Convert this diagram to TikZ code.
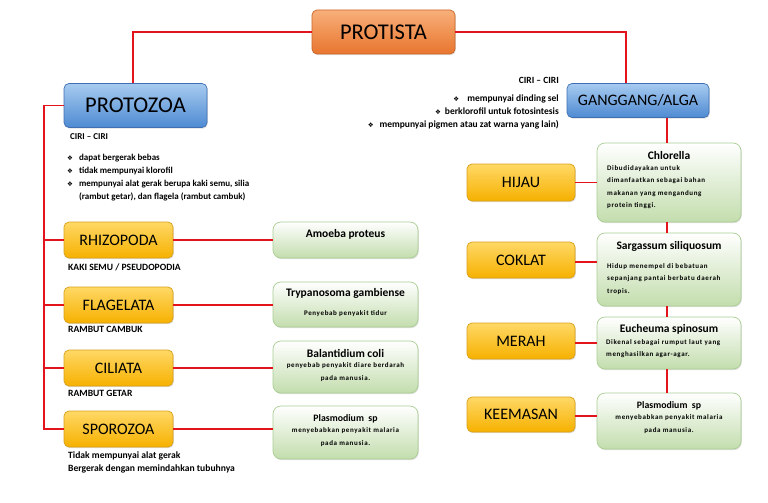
\documentclass[tikz,border=0pt]{standalone}
\usepackage{fontspec}
\setmainfont{Carlito}
\newfontfamily\djv{DejaVu Sans}
\newfontfamily\spaced[LetterSpace=9]{Carlito}
\usetikzlibrary{shadows,calc}
\definecolor{lred}{HTML}{E3141C}
\definecolor{oTop}{HTML}{F8AF7A}
\definecolor{oBot}{HTML}{E8752E}
\definecolor{oBrd}{HTML}{C9652A}
\definecolor{bTop}{HTML}{A7CBF0}
\definecolor{bBot}{HTML}{4E8AD2}
\definecolor{bBrd}{HTML}{3F6FB2}
\definecolor{yTop}{HTML}{FFD866}
\definecolor{yBot}{HTML}{F6B100}
\definecolor{yBrd}{HTML}{D9A01A}
\definecolor{gTop}{HTML}{FFFFFF}
\definecolor{gBot}{HTML}{C3DDAD}
\definecolor{gBrd}{HTML}{A9CE92}
\newcommand{\bul}{{\djv\fontsize{6.5}{6.5}\selectfont ❖}}
\tikzset{
  conn/.style={draw=lred, line width=1.6pt},
  boxbase/.style={rounded corners=5pt, inner sep=0pt, line width=0.7pt,
    drop shadow={opacity=0.25, shadow xshift=0.8pt, shadow yshift=-1.2pt}},
  obox/.style={boxbase, top color=oTop, bottom color=oBot, draw=oBrd, font=\fontsize{22.5}{22.5}\selectfont},
  bbox/.style={boxbase, top color=bTop, bottom color=bBot, draw=bBrd},
  ybox/.style={boxbase, top color=yTop, bottom color=yBot, draw=yBrd, minimum height=36, font=\fontsize{16}{16}\selectfont},
  gbox/.style={boxbase, rounded corners=8pt, top color=gTop, bottom color=gBot, draw=gBrd, minimum width=145},
  gtitle/.style={inner sep=0pt, font=\bfseries\fontsize{11.5}{11.5}\selectfont},
  ptitle/.style={inner sep=0pt, font=\bfseries\fontsize{9.8}{9.8}\selectfont},
  gdesc/.style={inner sep=0pt, font=\spaced\bfseries\fontsize{7}{12.6}\selectfont},
  note/.style={inner sep=0pt, anchor=west, font=\bfseries\fontsize{9.6}{9.6}\selectfont},
  ciri/.style={inner sep=0pt, font=\bfseries\fontsize{9}{13}\selectfont},
}
\begin{document}
\begin{tikzpicture}[x=1pt,y=-1pt]
\useasboundingbox[fill=white] (0,0) rectangle (768,503);

% main boxes
\node[obox, minimum width=143, minimum height=44] (protista) at (383.5,32) {PROTISTA};
\node[bbox, minimum width=143, minimum height=44, font=\fontsize{22.5}{22.5}\selectfont] (protozoa) at (135.5,105.5) {PROTOZOA};
\node[bbox, minimum width=142, minimum height=34, font=\fontsize{16}{16}\selectfont] (alga) at (638,100.5) {GANGGANG/ALGA};

% left yellow
\node[ybox, minimum width=109] (rhizo) at (118.5,240) {RHIZOPODA};
\node[ybox, minimum width=109] (flag) at (118.5,305) {FLAGELATA};
\node[ybox, minimum width=109] (cili) at (118.5,368) {CILIATA};
\node[ybox, minimum width=109] (sporo) at (118.5,429) {SPOROZOA};

% left green
\node[gbox, minimum height=36] (amoeba) at (345.5,240) {};
\node[gbox, minimum height=45] (tryp) at (345.5,304.5) {};
\node[gbox, minimum height=52] (balan) at (345.5,367) {};
\node[gbox, minimum height=53] (plasl) at (345.5,432.5) {};

% right yellow
\node[ybox, minimum width=108, minimum height=37] (hijau) at (521,182.5) {HIJAU};
\node[ybox, minimum width=108] (coklat) at (521,260) {COKLAT};
\node[ybox, minimum width=108] (merah) at (521,341) {MERAH};
\node[ybox, minimum width=108, minimum height=35] (emas) at (521,414.5) {KEEMASAN};

% right green
\node[gbox, minimum width=144, minimum height=79] (chl) at (669,182.5) {};
\node[gbox, minimum width=144, minimum height=73] (sarg) at (669,269.5) {};
\node[gbox, minimum width=144, minimum height=52] (euch) at (669,343) {};
\node[gbox, minimum width=144, minimum height=56] (plasr) at (669,421) {};

% connectors
\draw[conn] (protista.west) -| ([xshift=-2.5pt]protozoa.north);
\draw[conn] (protista.east) -| ([xshift=-12pt]alga.north);
\draw[conn] (protozoa.west) -| (sporo.west -| 44,0) -- (sporo.west);
\draw[conn] (rhizo.west -| 44,0) -- (rhizo.west);
\draw[conn] (flag.west -| 44,0) -- (flag.west);
\draw[conn] (cili.west -| 44,0) -- (cili.west);
\draw[conn] (rhizo.east) -- (rhizo.east -| amoeba.west);
\draw[conn] (flag.east) -- (flag.east -| tryp.west);
\draw[conn] (cili.east) -- (cili.east -| balan.west);
\draw[conn] (sporo.east) -- (sporo.east -| plasl.west);
\draw[conn] ([xshift=-2pt]chl.north) -- ([xshift=-2pt]chl.north |- alga.south);
\draw[conn] ([xshift=-2pt]chl.south) -- ([xshift=-2pt]sarg.north);
\draw[conn] ([xshift=-2pt]sarg.south) -- ([xshift=-2pt]euch.north);
\draw[conn] ([xshift=-2pt]euch.south) -- ([xshift=-2pt]plasr.north);
\draw[conn] (hijau.east) -- (hijau.east -| chl.west);
\draw[conn] ([yshift=-2pt]coklat.east) -- ([yshift=-2pt]coklat.east -| sarg.west);
\draw[conn] ([yshift=-2pt]merah.east) -- ([yshift=-2pt]merah.east -| euch.west);
\draw[conn] ([yshift=-1.5pt]emas.east) -- ([yshift=-1.5pt]emas.east -| plasr.west);

% left CIRI
\node[ciri, anchor=west] (lciri) at (70,137) {CIRI -- CIRI};
\node[ciri, anchor=north west, align=left] (lcirib) at (67,153.5) {%
\bul\hspace{6pt}dapat bergerak bebas\\
\bul\hspace{6pt}tidak mempunyai klorofil\\
\bul\hspace{6pt}mempunyai alat gerak berupa kaki semu, silia\\
\hphantom{\bul\hspace{6pt}}(rambut getar), dan flagela (rambut cambuk)};

% right CIRI
\node[ciri, font=\bfseries\fontsize{9.5}{13}\selectfont, anchor=east] (rciri) at (559,80) {CIRI -- CIRI};
\node[ciri, font=\bfseries\fontsize{9.5}{13}\selectfont, anchor=north east, align=right] (rcirib) at (559,95) {%
\bul\hspace{8pt}mempunyai dinding sel\\
\bul\hspace{4pt}berklorofil untuk fotosintesis\\
\bul\hspace{6pt}mempunyai pigmen atau zat warna yang lain)};

% notes under yellow boxes
\node[note] (n1) at (68,267) {KAKI SEMU / PSEUDOPODIA};
\node[note] (n2) at (68,329.5) {RAMBUT CAMBUK};
\node[note] (n3) at (68,393) {RAMBUT GETAR};
\node[note, align=left, font=\bfseries\fontsize{9.6}{12.5}\selectfont, anchor=north west] (n4) at (68,452) {Tidak mempunyai alat gerak\\Bergerak dengan memindahkan tubuhnya};

% left green texts
\node[gtitle] (t1) at (345.5,234) {Amoeba proteus};
\node[gtitle] (t2) at (345.5,293) {Trypanosoma gambiense};
\node[gdesc] (d2) at (345.5,314) {Penyebab penyakit tidur};
\node[gtitle] (t3) at (345.5,353) {Balantidium coli};
\node[gdesc, align=center, anchor=north] (d3) at (345.5,362.5) {penyebab penyakit diare berdarah\\pada manusia.};
\node[ptitle] (t4) at (345.5,419) {Plasmodium\ \ sp};
\node[gdesc, align=center, anchor=north] (d4) at (345.5,427.5) {menyebabkan penyakit malaria\\pada manusia.};

% right green texts
\node[gtitle] (t5) at (669,156) {Chlorella};
\node[gdesc, align=left, anchor=north west] (d5) at (607,165) {Dibudidayakan untuk\\dimanfaatkan sebagai bahan\\makanan yang mengandung\\protein tinggi.};
\node[gtitle] (t6) at (669,246) {Sargassum siliquosum};
\node[gdesc, align=left, anchor=north west] (d6) at (607,263) {Hidup menempel di bebatuan\\sepanjang pantai berbatu daerah\\tropis.};
\node[gtitle] (t7) at (669,329) {Eucheuma spinosum};
\node[gdesc, align=left, anchor=north west] (d7) at (606,339) {Dikenal sebagai rumput laut yang\\menghasilkan agar-agar.};
\node[ptitle] (t8) at (669,406) {Plasmodium\ \ sp};
\node[gdesc, align=center, anchor=north] (d8) at (669,414.5) {menyebabkan penyakit malaria\\pada manusia.};
\end{tikzpicture}
\end{document}
